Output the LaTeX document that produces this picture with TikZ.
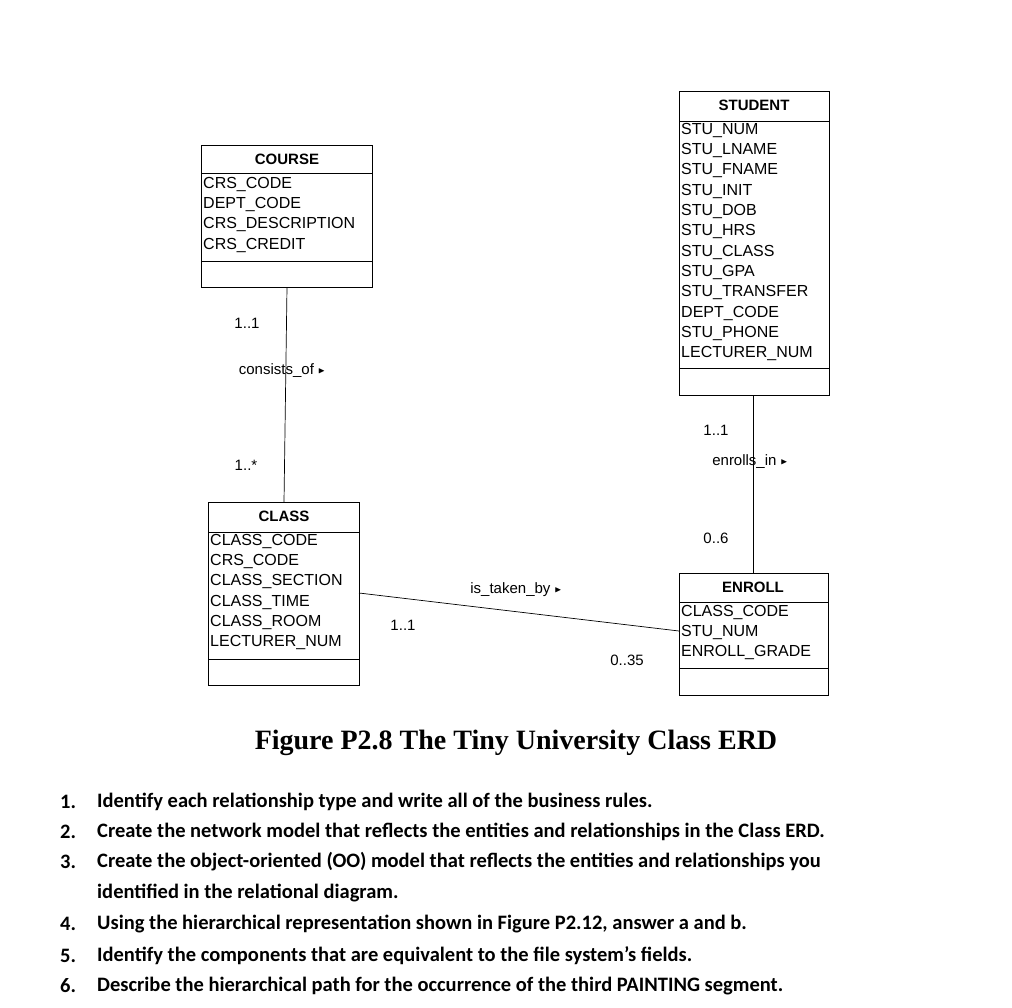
\documentclass[tikz,border=0pt]{standalone}
\usepackage{amssymb}
\usepackage{fontspec}
\setmainfont{Liberation Sans}
\newfontfamily\capfont{Liberation Serif}
\newfontfamily\listfont{Carlito}
\newcommand{\reldir}{\raisebox{1pt}{\scalebox{0.6}{$\blacktriangleright$}}}
\begin{document}
\begin{tikzpicture}[x=1pt,y=-1pt,
  ent/.style={draw, line width=0.9pt, anchor=north west, inner sep=0},
  attr/.style={anchor=north west, align=left, inner sep=0, font=\fontsize{16}{20.3}\selectfont},
  ttl/.style={font=\fontsize{15}{18}\selectfont\bfseries},
  lab/.style={font=\fontsize{15}{18}\selectfont},
  item/.style={anchor=west, inner sep=0, font=\listfont\fontsize{20.5}{25}\selectfont\bfseries}]
\useasboundingbox (0,0) rectangle (1012,1007);

% COURSE
\node [ent, minimum width=171, minimum height=142] (course) at (201,145) {};
\node [ttl] at (287,159) {COURSE};
\draw [line width=0.9pt] (201,173) -- (372,173) (201,261) -- (372,261);
\node [attr] at (203,177) {CRS\_CODE\\DEPT\_CODE\\CRS\_DESCRIPTION\\CRS\_CREDIT};

% STUDENT
\node [ent, minimum width=150, minimum height=304] (student) at (679,91) {};
\node [ttl] at (754,105) {STUDENT};
\draw [line width=0.9pt] (679,121) -- (829,121) (679,368) -- (829,368);
\node [attr] at (681,123) {STU\_NUM\\STU\_LNAME\\STU\_FNAME\\STU\_INIT\\STU\_DOB\\STU\_HRS\\STU\_CLASS\\STU\_GPA\\STU\_TRANSFER\\DEPT\_CODE\\STU\_PHONE\\LECTURER\_NUM};

% CLASS
\node [ent, minimum width=151, minimum height=183] (class) at (208,502) {};
\node [ttl] at (284,516) {CLASS};
\draw [line width=0.9pt] (208,532) -- (359,532) (208,659) -- (359,659);
\node [attr] at (210,534) {CLASS\_CODE\\CRS\_CODE\\CLASS\_SECTION\\CLASS\_TIME\\CLASS\_ROOM\\LECTURER\_NUM};

% ENROLL
\node [ent, minimum width=149, minimum height=122] (enroll) at (679,573) {};
\node [ttl] at (753,587) {ENROLL};
\draw [line width=0.9pt] (679,602) -- (828,602) (679,668) -- (828,668);
\node [attr] at (681,605) {CLASS\_CODE\\STU\_NUM\\ENROLL\_GRADE};

% relationships
\coordinate (c1) at (287,287);
\coordinate (c2) at (284,502);
\coordinate (s1) at (753,395);
\coordinate (s2) at (753,573);
\coordinate (k1) at (359,593);
\coordinate (e1) at (679,631);
\draw [line width=0.7pt] (c1) -- (c2);
\draw [line width=0.7pt] (s1) -- (s2);
\draw [line width=0.7pt] (k1) -- (e1);

\node [lab] (m1) at (247,323) {1..1};
\node [lab] (r1) at (282,371) {consists\_of \reldir};
\node [lab] (m2) at (246,465) {1..*};
\node [lab] (m3) at (716,430) {1..1};
\node [lab] (r2) at (750,462) {enrolls\_in \reldir};
\node [lab] (m4) at (716,538) {0..6};
\node [lab] (r3) at (516,590) {is\_taken\_by \reldir};
\node [lab] (m5) at (403,625) {1..1};
\node [lab] (m6) at (627,660) {0..35};

% caption and questions
\node [font=\capfont\fontsize{28}{32}\selectfont\bfseries] (cap) at (516,743) {Figure P2.8 The Tiny University Class ERD};
\node [item] at (60,802) {1.};
\node [item] at (97,802) {Identify each relationship type and write all of the business rules.};
\node [item] at (60,832) {2.};
\node [item] at (97,832) {Create the network model that reflects the entities and relationships in the Class ERD.};
\node [item] at (60,862) {3.};
\node [item] at (97,862) {Create the object-oriented (OO) model that reflects the entities and relationships you};
\node [item] at (97,893) {identified in the relational diagram.};
\node [item] at (60,924) {4.};
\node [item] at (97,924) {Using the hierarchical representation shown in Figure P2.12, answer a and b.};
\node [item] at (60,956) {5.};
\node [item] at (97,956) {Identify the components that are equivalent to the file system’s fields.};
\node [item] at (60,986) {6.};
\node [item] at (97,986) {Describe the hierarchical path for the occurrence of the third PAINTING segment.};
\end{tikzpicture}
\end{document}
